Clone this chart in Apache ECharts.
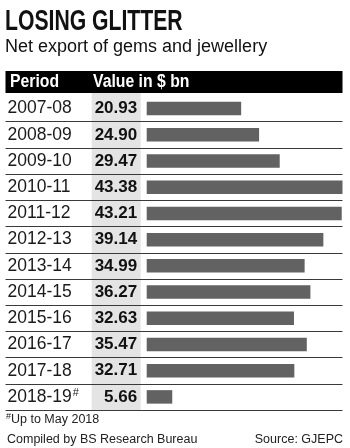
<!DOCTYPE html>
<html>
<head>
<meta charset="utf-8">
<script src="https://cdn.jsdelivr.net/npm/echarts@6/dist/echarts.min.js"></script>
<style>
  html, body { margin: 0; padding: 0; background: #ffffff; }
  #chart { width: 350px; height: 448px; }
</style>
</head>
<body>
<div id="chart"></div>
<script>
// Net export of gems and jewellery, $ bn, by financial year
const periods = ['2007-08', '2008-09', '2009-10', '2010-11', '2011-12', '2012-13',
                 '2013-14', '2014-15', '2015-16', '2016-17', '2017-18', '2018-19'];
const values = [20.93, 24.90, 29.47, 43.38, 43.21, 39.14, 34.99, 36.27, 32.63, 35.47, 32.71, 5.66];
// periods carrying a footnote mark
const footnoted = ['2018-19'];
const headers = ['Period', 'Value in $ bn'];

const SANS = '"Liberation Sans", Arial, sans-serif';

const chart = echarts.init(document.getElementById('chart'), null, { renderer: 'canvas' });

const maxVal = Math.max(...values);

chart.setOption({
  animation: false,
  backgroundColor: '#ffffff',
  title: [
    {
      text: 'Net export of gems and jewellery',
      left: 5, top: 38, padding: 0,
      textStyle: { fontFamily: SANS, fontWeight: 'normal', fontSize: 18, color: '#111111' }
    },
    {
      text: '{m|#}{t|Up to May 2018}',
      left: 6, top: 412, padding: 0,
      textStyle: {
        rich: {
          m: { fontFamily: SANS, fontWeight: 'normal', fontSize: 9, color: '#222222', verticalAlign: 'top', padding: [0, 0, 6, 0] },
          t: { fontFamily: SANS, fontWeight: 'normal', fontSize: 12.5, color: '#222222' }
        }
      }
    },
    {
      text: 'Compiled by BS Research Bureau',
      left: 7, top: 433, padding: 0,
      textStyle: { fontFamily: SANS, fontWeight: 'normal', fontSize: 12.5, color: '#222222' }
    },
    {
      text: 'Source: GJEPC',
      right: 7, top: 433, padding: 0,
      textStyle: { fontFamily: SANS, fontWeight: 'normal', fontSize: 12.5, color: '#222222' }
    }
  ],
  graphic: [
    {
      // headline set in a condensed cut
      type: 'text', x: 5, y: 22, scaleX: 0.73, originX: 0, originY: 0,
      style: { text: 'LOSING GLITTER', fill: '#111111', font: 'bold 29px ' + SANS, verticalAlign: 'middle' }
    },
    {
      type: 'rect', z: -10,
      shape: { x: 91.7, y: 93, width: 49, height: 317 },
      style: { fill: '#e4e4e4' }
    },
    {
      type: 'rect', z: 10,
      shape: { x: 5.5, y: 71, width: 337, height: 22 },
      style: { fill: '#000000' }
    },
    {
      type: 'text', z: 11, x: 10, y: 82, scaleX: 0.83, originX: 0, originY: 0,
      style: { text: headers[0], fill: '#ffffff', font: 'bold 19px ' + SANS, verticalAlign: 'middle' }
    },
    {
      type: 'text', z: 11, x: 93, y: 82, scaleX: 0.83, originX: 0, originY: 0,
      style: { text: headers[1], fill: '#ffffff', font: 'bold 19px ' + SANS, verticalAlign: 'middle' }
    }
  ],
  grid: { left: 5.5, right: 7.5, top: 95.5, bottom: 38, containLabel: false },
  xAxis: {
    type: 'value',
    // negative range leaves room for the period and value columns left of the bars
    min: -0.7212 * maxVal,
    max: maxVal,
    show: false
  },
  yAxis: {
    type: 'category',
    data: periods,
    inverse: true,
    z: 3,
    axisLine: { show: false },
    axisTick: { show: false },
    axisLabel: {
      inside: true,
      margin: 2,
      formatter: p => footnoted.includes(p) ? '{p|' + p + '}{m|#}' : '{p|' + p + '}',
      rich: {
        p: { fontFamily: SANS, fontSize: 17.5, color: '#1a1a1a' },
        m: { fontFamily: SANS, fontSize: 11, color: '#1a1a1a', verticalAlign: 'top', padding: [0, 0, 7, 1] }
      }
    },
    splitLine: {
      show: true,
      showMinLine: false,
      lineStyle: { color: '#3a3a3a', width: 1 }
    }
  },
  series: [
    {
      type: 'bar',
      data: values,
      barWidth: 13.5,
      itemStyle: { color: '#626262' },
      label: {
        show: true,
        position: 'left',
        distance: 9.5,
        formatter: d => d.value.toFixed(2),
        fontFamily: SANS,
        fontWeight: 'bold',
        fontSize: 17,
        color: '#111111'
      }
    }
  ]
});
</script>
</body>
</html>
